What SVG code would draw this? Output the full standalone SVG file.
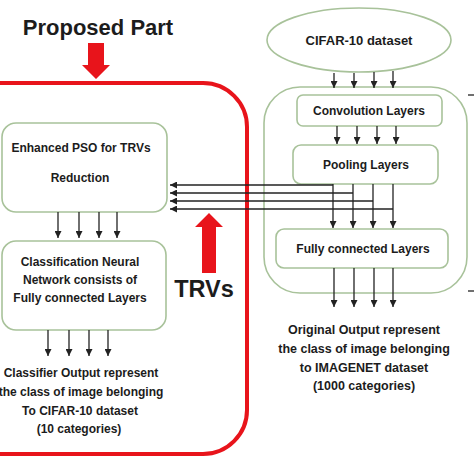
<svg xmlns="http://www.w3.org/2000/svg" width="474" height="474" viewBox="0 0 474 474">
<defs>
<style>
text{font-family:"Liberation Sans",Arial,sans-serif;font-weight:bold;fill:#1c1c1c;text-anchor:middle}
.box{fill:#fff;stroke:#a8c29a;stroke-width:1.6}
.red{fill:#e8141b}
.ln{stroke:#222;stroke-width:1.3;fill:none}
.t12{font-size:12px}
.t125{font-size:12.5px}
</style>
<marker id="ah" viewBox="0 0 8 8" refX="8" refY="4" markerWidth="7" markerHeight="7" markerUnits="userSpaceOnUse" orient="auto">
<path d="M0,0 L8,4 L0,8 z" fill="#222"/>
</marker>
</defs>
<rect width="474" height="474" fill="#fff"/>

<g id="proposed-part">
<text x="98" y="35" style="font-size:22px">Proposed Part</text>
<path class="red" d="M88,43 H104 V65 H110 L96,79 L82,65 H88 Z"/>
<rect x="-50" y="83" width="297" height="371" rx="44" fill="none" stroke="#e8141b" stroke-width="4"/>
</g>

<g id="trvs">
<path class="red" d="M202,273 V227 H195 L209,213 L223,227 H216 V273 Z"/>
<text x="204" y="297" style="font-size:23.5px">TRVs</text>
</g>

<g id="pso">
<rect class="box" x="2" y="123" width="165" height="89" rx="14"/>
<text class="t12" x="81" y="152">Enhanced PSO for TRVs</text>
<text class="t12" x="80" y="182">Reduction</text>
</g>

<g id="classification-nn">
<rect class="box" x="2" y="241" width="164" height="89" rx="14"/>
<text class="t12" x="80" y="266">Classification Neural</text>
<text class="t12" x="80" y="284">Network consists of</text>
<text class="t12" x="80" y="302">Fully connected Layers</text>
</g>

<g id="classifier-output">
<text class="t12" x="81" y="377">Classifier Output represent</text>
<text class="t12" x="81" y="396">the class of image belonging</text>
<text class="t12" x="80" y="415">To CIFAR-10 dataset</text>
<text class="t12" x="79" y="433">(10 categories)</text>
</g>

<g id="cifar-dataset">
<ellipse class="box" cx="359" cy="40" rx="92" ry="32"/>
<text style="font-size:13px" x="359" y="45">CIFAR-10 dataset</text>
</g>

<g id="pretrained-net">
<rect class="box" x="264" y="87" width="203" height="206" rx="36"/>
</g>

<g id="conv">
<rect class="box" x="297" y="95" width="145" height="31" rx="6"/>
<text class="t12" x="369" y="115">Convolution Layers</text>
</g>

<g id="pool">
<rect class="box" x="293" y="145" width="145" height="39" rx="8"/>
<text class="t12" x="366" y="169">Pooling Layers</text>
</g>

<g id="fc">
<rect class="box" x="276" y="229" width="172" height="39" rx="8"/>
<text class="t12" x="363" y="253">Fully connected Layers</text>
</g>

<g id="original-output">
<text class="t125" x="364" y="334">Original Output represent</text>
<text class="t125" x="364" y="353">the class of image belonging</text>
<text class="t125" x="364" y="372">to IMAGENET dataset</text>
<text class="t125" x="364" y="390">(1000 categories)</text>
</g>

<g id="connectors">
<path class="ln" marker-end="url(#ah)" d="M58,212 V238"/>
<path class="ln" marker-end="url(#ah)" d="M79,212 V238"/>
<path class="ln" marker-end="url(#ah)" d="M99,212 V238"/>
<path class="ln" marker-end="url(#ah)" d="M117,212 V238"/>
<path class="ln" marker-end="url(#ah)" d="M48,330 V356"/>
<path class="ln" marker-end="url(#ah)" d="M69,330 V356"/>
<path class="ln" marker-end="url(#ah)" d="M89,330 V356"/>
<path class="ln" marker-end="url(#ah)" d="M108,330 V356"/>
<path class="ln" marker-end="url(#ah)" d="M334,73 V88"/>
<path class="ln" marker-end="url(#ah)" d="M354,73 V88"/>
<path class="ln" marker-end="url(#ah)" d="M374,72 V88"/>
<path class="ln" marker-end="url(#ah)" d="M393,71 V88"/>
<path class="ln" marker-end="url(#ah)" d="M337,126 V144"/>
<path class="ln" marker-end="url(#ah)" d="M357,126 V144"/>
<path class="ln" marker-end="url(#ah)" d="M377,126 V144"/>
<path class="ln" marker-end="url(#ah)" d="M396,126 V144"/>
<path class="ln" marker-end="url(#ah)" d="M333,184 V228"/>
<path class="ln" marker-end="url(#ah)" d="M353,184 V228"/>
<path class="ln" marker-end="url(#ah)" d="M373,184 V228"/>
<path class="ln" marker-end="url(#ah)" d="M393,184 V228"/>
<path class="ln" marker-end="url(#ah)" d="M333,185 H170"/>
<path class="ln" marker-end="url(#ah)" d="M353,193 H170"/>
<path class="ln" marker-end="url(#ah)" d="M373,201 H170"/>
<path class="ln" marker-end="url(#ah)" d="M393,209 H170"/>
<path class="ln" marker-end="url(#ah)" d="M334,268 V307"/>
<path class="ln" marker-end="url(#ah)" d="M354,268 V307"/>
<path class="ln" marker-end="url(#ah)" d="M374,268 V307"/>
<path class="ln" marker-end="url(#ah)" d="M393,268 V307"/>
<path class="ln" d="M468,95 H474"/>
<path class="ln" d="M468,291 H474"/>
</g>
</svg>
